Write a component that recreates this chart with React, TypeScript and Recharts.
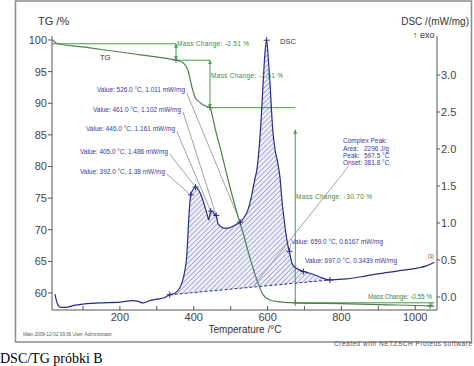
import React from 'react';
import { ComposedChart, Line, Area, XAxis, YAxis, ReferenceLine } from 'recharts';

const FONT = '"Liberation Sans", Arial, sans-serif';

// temperature (°C), DSC (mW/mg)
const dscCurve: [number, number][] = [
  [24, 0.04], [28, -0.05], [32, -0.11], [40, -0.14], [51, -0.14], [80, -0.11], [110, -0.09],
  [146, -0.08], [200, -0.07], [235, -0.05], [250, -0.06], [262, -0.08], [280, -0.05], [300, -0.03],
  [320, -0.01], [335, 0.03], [349, 0.05], [362, 0.12], [368, 0.19], [376, 0.36], [381, 0.55],
  [384, 0.81], [387, 1.1], [390, 1.3], [392, 1.38], [398, 1.45], [405, 1.486], [411, 1.46],
  [417, 1.41], [424, 1.32], [430, 1.22], [436, 1.12], [441, 1.04], [443, 1.1], [446, 1.161],
  [452, 1.15], [456, 1.12], [461, 1.102], [465, 1.0], [474, 0.95], [484, 0.93], [494, 0.93],
  [503, 0.95], [515, 0.98], [526, 1.011], [537, 1.08], [547, 1.18], [556, 1.35], [565, 1.58],
  [571, 1.72], [576, 1.95], [582, 2.35], [588, 2.9], [593, 3.3], [597.5, 3.47], [602, 3.22],
  [607, 2.85], [614, 2.26], [620, 2.0], [628, 1.8], [634, 1.6], [639, 1.3], [644, 1.08],
  [649, 0.88], [655, 0.7], [659, 0.6167], [666, 0.46], [674, 0.4], [685, 0.37], [697, 0.3439],
  [715, 0.32], [742, 0.27], [769, 0.23], [804, 0.24], [850, 0.27], [895, 0.31], [950, 0.35],
  [1005, 0.39], [1030, 0.42], [1052, 0.47],
];

// temperature (°C), TG (%)
const tgCurve: [number, number][] = [
  [18, 100.0], [25, 99.6], [32, 99.4], [100, 98.9], [150, 98.5], [200, 98.1], [250, 97.7],
  [300, 97.3], [352, 96.8], [371, 96.4], [384, 95.3], [395, 92.6], [403, 91.0], [417, 90.1],
  [430, 89.6], [444, 89.3], [452, 87.6], [460, 85.5], [471, 83.1], [493, 77.9], [517, 72.7],
  [533, 69.6], [552, 65.6], [574, 61.6], [588, 59.7], [606, 58.9], [633, 58.6], [675, 58.45],
  [750, 58.35], [850, 58.25], [950, 58.1], [1040, 57.95], [1052, 57.9],
];

// integration baseline under the complex peak (°C, mW/mg)
const peakBaseline: [number, number][] = [
  [335, 0.03], [349, 0.04], [362, 0.04], [368, 0.05], [376, 0.05], [381, 0.05], [384, 0.05],
  [387, 0.05], [390, 0.05], [392, 0.06], [398, 0.06], [405, 0.06], [411, 0.06], [417, 0.07],
  [424, 0.07], [430, 0.07], [436, 0.08], [441, 0.08], [443, 0.08], [446, 0.08], [452, 0.08],
  [456, 0.09], [461, 0.09], [465, 0.09], [474, 0.09], [484, 0.1], [494, 0.1], [503, 0.11],
  [515, 0.11], [526, 0.12], [537, 0.12], [547, 0.13], [556, 0.13], [565, 0.14], [571, 0.14],
  [576, 0.14], [582, 0.14], [588, 0.15], [593, 0.15], [597.5, 0.15], [602, 0.15], [607, 0.16],
  [614, 0.16], [620, 0.16], [628, 0.17], [634, 0.17], [639, 0.17], [644, 0.17], [649, 0.17],
  [655, 0.18], [659, 0.18], [666, 0.18], [674, 0.19], [685, 0.19], [697, 0.2], [715, 0.2],
  [742, 0.22], [769, 0.23],
];

const dscMarkTemps = [335, 392, 405, 446, 461, 526, 597.5, 659, 697, 769];
const tgMarkTemps = [352, 444, 675, 1040];

const xTicks = [100, 200, 300, 400, 500, 600, 700, 800, 900, 1000];
const tgTicks = [60, 65, 70, 75, 80, 85, 90, 95, 100];
const dscTicks = [0, 0.5, 1.0, 1.5, 2.0, 2.5, 3.0];

const dscAt = new Map(dscCurve);
const tgAt = new Map(tgCurve);
const dscData = dscCurve.map(([t, v]) => ({ t, v }));
const tgData = tgCurve.map(([t, v]) => ({ t, v }));
const hatchData = peakBaseline.map(([t, b]) => ({ t, range: [b, dscAt.get(t)] }));
const baselineData = [peakBaseline[0], peakBaseline[peakBaseline.length - 1]].map(([t, v]) => ({ t, v }));
const dscMarks = dscMarkTemps.map((t) => ({ t, v: dscAt.get(t) }));
const tgMarks = tgMarkTemps.map((t) => ({ t, v: tgAt.get(t) }));

const DSC_C = '#2a2a8a';
const TG_C = '#4f7f4f';
const MC_C = '#3fa03f';
const LEAD_C = '#8c8c8c';

const Cross = (color: string) => (props: any) => {
  const { cx, cy, key } = props;
  if (cx == null || cy == null) return <g key={key} />;
  return <path key={key} d={`M${cx - 3},${cy}h6M${cx},${cy - 3}v6`} stroke={color} strokeWidth={1} />;
};

const TempTick = (props: any) => {
  const { x, y, payload } = props;
  const v = payload.value;
  return (
    <g>
      <line x1={x} y1={y} x2={x} y2={y - 4} stroke="#555" />
      {v % 200 === 0 && (
        <text x={x} y={y + 11} textAnchor="middle" fontSize={11} fill="#444" fontFamily={FONT}>
          {v}
        </text>
      )}
    </g>
  );
};

const small = { fontFamily: FONT, fontSize: 6.5 };

export default function App() {
  return (
    <div style={{ position: 'absolute', left: 0, top: 0, width: 474, height: 366, background: '#fff' }}>
      <ComposedChart
        width={474}
        height={366}
        margin={{ top: 36, right: 0, bottom: 26, left: 12 }}
        style={{ position: 'absolute', left: 0, top: 0 }}
      >
        <XAxis
          type="number"
          dataKey="t"
          domain={[16, 1059]}
          ticks={xTicks}
          interval={0}
          allowDataOverflow
          height={30}
          tickSize={0}
          tickMargin={0}
          tick={<TempTick />}
          axisLine={{ stroke: '#555' }}
        />
        <YAxis
          yAxisId="tg"
          domain={[57.31, 100.63]}
          ticks={tgTicks}
          allowDataOverflow
          width={40}
          tickSize={4}
          tickMargin={1}
          tick={{ fontSize: 11, fill: '#444', fontFamily: FONT }}
          axisLine={{ stroke: '#555' }}
          tickLine={{ stroke: '#555' }}
        />
        <YAxis
          yAxisId="dsc"
          orientation="right"
          domain={[-0.176, 3.527]}
          ticks={dscTicks}
          allowDataOverflow
          width={37}
          tickSize={3}
          tickMargin={1}
          tickFormatter={(v: number) => v.toFixed(1)}
          tick={{ fontSize: 11, fill: '#444', fontFamily: FONT }}
          axisLine={{ stroke: '#555' }}
          tickLine={{ stroke: '#555' }}
        />

        <Area
          yAxisId="dsc"
          data={hatchData}
          dataKey="range"
          type="monotone"
          stroke="none"
          fill="url(#hatch)"
          fillOpacity={1}
          isAnimationActive={false}
        />
        <Line
          yAxisId="dsc"
          data={baselineData}
          dataKey="v"
          stroke={DSC_C}
          strokeDasharray="3 2"
          strokeWidth={1}
          dot={false}
          isAnimationActive={false}
        />

        {/* mass change brackets */}
        <ReferenceLine yAxisId="tg" segment={[{ x: 16, y: 99.4 }, { x: 352, y: 99.4 }]} stroke={MC_C} />
        <ReferenceLine yAxisId="tg" segment={[{ x: 352, y: 99.4 }, { x: 352, y: 96.8 }]} stroke={MC_C} markerStart="url(#arr)" markerEnd="url(#arr)" />
        <ReferenceLine yAxisId="tg" segment={[{ x: 352, y: 96.8 }, { x: 444, y: 96.8 }]} stroke={MC_C} />
        <ReferenceLine yAxisId="tg" segment={[{ x: 444, y: 96.8 }, { x: 444, y: 89.3 }]} stroke={MC_C} markerStart="url(#arr)" markerEnd="url(#arr)" />
        <ReferenceLine yAxisId="tg" segment={[{ x: 444, y: 89.3 }, { x: 675, y: 89.3 }]} stroke={MC_C} />
        <ReferenceLine yAxisId="tg" segment={[{ x: 675, y: 58.45 }, { x: 675, y: 85.8 }]} stroke={MC_C} markerEnd="url(#arr)" />
        <ReferenceLine yAxisId="tg" segment={[{ x: 675, y: 58.45 }, { x: 1052, y: 58.45 }]} stroke={MC_C} />
        <ReferenceLine yAxisId="tg" segment={[{ x: 1045, y: 58.45 }, { x: 1045, y: 57.9 }]} stroke={MC_C} />

        {/* value leaders */}
        <ReferenceLine yAxisId="dsc" segment={[{ x: 381, y: 2.76 }, { x: 526, y: 1.011 }]} stroke={LEAD_C} strokeWidth={0.8} />
        <ReferenceLine yAxisId="dsc" segment={[{ x: 371, y: 2.5 }, { x: 461, y: 1.102 }]} stroke={LEAD_C} strokeWidth={0.8} />
        <ReferenceLine yAxisId="dsc" segment={[{ x: 354, y: 2.24 }, { x: 446, y: 1.161 }]} stroke={LEAD_C} strokeWidth={0.8} />
        <ReferenceLine yAxisId="dsc" segment={[{ x: 335, y: 1.93 }, { x: 405, y: 1.486 }]} stroke={LEAD_C} strokeWidth={0.8} />
        <ReferenceLine yAxisId="dsc" segment={[{ x: 327, y: 1.66 }, { x: 392, y: 1.38 }]} stroke={LEAD_C} strokeWidth={0.8} />
        <ReferenceLine yAxisId="dsc" segment={[{ x: 663, y: 0.73 }, { x: 659, y: 0.6167 }]} stroke={LEAD_C} strokeWidth={0.8} />
        <ReferenceLine yAxisId="dsc" segment={[{ x: 820, y: 1.77 }, { x: 560, y: 0.135 }]} stroke={LEAD_C} strokeWidth={0.8} />

        <Line
          yAxisId="tg"
          data={tgData}
          dataKey="v"
          type="monotone"
          stroke={TG_C}
          strokeWidth={1.2}
          dot={false}
          isAnimationActive={false}
        />
        <Line
          yAxisId="dsc"
          data={dscData}
          dataKey="v"
          type="monotone"
          stroke={DSC_C}
          strokeWidth={1.2}
          dot={false}
          isAnimationActive={false}
        />
        <Line yAxisId="dsc" data={dscMarks} dataKey="v" stroke="none" dot={Cross(DSC_C)} isAnimationActive={false} />
        <Line yAxisId="tg" data={tgMarks} dataKey="v" stroke="none" dot={Cross(TG_C)} isAnimationActive={false} />
      </ComposedChart>

      <svg width={474} height={366} style={{ position: 'absolute', left: 0, top: 0, pointerEvents: 'none' }}>
        <defs>
          <pattern id="hatch" width={3.5} height={3.5} patternUnits="userSpaceOnUse" patternTransform="rotate(45)">
            <rect width={3.5} height={3.5} fill="#eef0fa" />
            <line x1={0} y1={0} x2={0} y2={3.5} stroke="#5858aa" strokeWidth={0.9} />
          </pattern>
          <marker id="arr" viewBox="0 0 6 6" refX={6} refY={3} markerWidth={4} markerHeight={4} orient="auto-start-reverse">
            <path d="M0,0L6,3L0,6z" fill={MC_C} />
          </marker>
        </defs>
        <rect x={15.5} y={1} width={456} height={341} fill="none" stroke="#8a8a8a" strokeWidth={1.5} />

        <g fontFamily={FONT} fill="#333">
          <text x={38} y={25} fontSize={11}>TG /%</text>
          <text x={469} y={25} fontSize={10} textAnchor="end">DSC /(mW/mg)</text>
          <text x={413} y={38} fontSize={9}>↑ exo</text>
          <text x={245} y={333} fontSize={10} textAnchor="middle">Temperature /°C</text>
          <text x={100} y={60} fontSize={7.5}>TG</text>
          <text x={280} y={44} fontSize={7.5}>DSC</text>
          <text x={428} y={258} fontSize={5}>[1]</text>
        </g>

        <g {...small} fill="#3a3a9a">
          <text x={97} y={92} textLength={88}>Value: 526.0 °C, 1.011 mW/mg</text>
          <text x={93} y={112} textLength={88}>Value: 461.0 °C, 1.102 mW/mg</text>
          <text x={86} y={131} textLength={89}>Value: 446.0 °C, 1.161 mW/mg</text>
          <text x={80} y={154} textLength={88}>Value: 405.0 °C, 1.486 mW/mg</text>
          <text x={80} y={174} textLength={85}>Value: 392.0 °C, 1.38 mW/mg</text>
          <text x={291} y={244} textLength={92}>Value: 659.0 °C, 0.6167 mW/mg</text>
          <text x={305} y={263} textLength={92}>Value: 697.0 °C, 0.3439 mW/mg</text>
          <text x={343} y={143}>Complex Peak:</text>
          <text x={343} y={151}>Area:</text>
          <text x={364} y={151}>2296 J/g</text>
          <text x={343} y={158}>Peak:</text>
          <text x={364} y={158}>597.5 °C</text>
          <text x={343} y={165}>Onset:</text>
          <text x={364} y={165}>381.8 °C</text>
        </g>

        <g {...small} fill="#3a8a3a">
          <text x={177} y={46} textLength={72}>Mass Change: -2.51 %</text>
          <text x={211} y={78} textLength={72}>Mass Change: -7.51 %</text>
          <text x={296} y={199} textLength={76}>Mass Change: -30.70 %</text>
          <text x={368} y={299} textLength={64}>Mass Change: -0.55 %</text>
        </g>

        <text x={23} y={336} fontSize={5} fill="#666" fontFamily={FONT} textLength={89}>
          Main 2009-12-02 09:36   User: Administrator
        </text>
        <text x={334} y={346} fontSize={6.5} fill="#555" fontFamily={FONT} textLength={138}>
          Created with NETZSCH Proteus software
        </text>
        <text x={0} y={363} fontSize={14} fill="#000" fontFamily='"Liberation Serif", "Times New Roman", serif'>
          DSC/TG próbki B
        </text>
      </svg>
    </div>
  );
}
